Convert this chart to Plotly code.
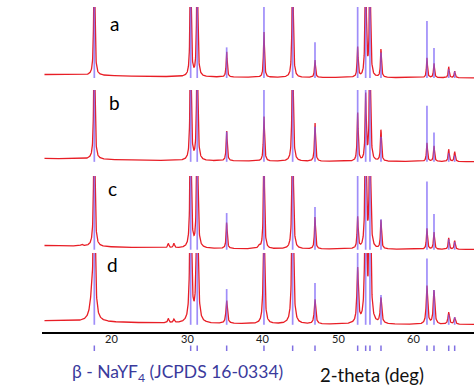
import numpy as np
import plotly.graph_objects as go

# ---------------- data ----------------
# reference pattern beta-NaYF4 (JCPDS 16-0334): 2-theta positions and relative stick heights
ref_pos = [17.66, 30.42, 31.29, 35.19, 40.13, 43.93, 46.89, 52.54, 53.60, 54.17, 55.63, 61.72, 62.65, 64.60, 65.39]
ref_int = [1.5, 1.5, 1.5, 0.42, 1.5, 1.5, 0.49, 1.0, 1.5, 1.5, 0.35, 0.78, 0.41, 0.12, 0.09]

panel_labels = ["a", "b", "c", "d"]

# measured peak heights of each sample at the reference positions
peaks_a = [2.0, 2.0, 2.0, 0.35, 0.63, 2.0, 0.24, 0.41, 2.0, 2.0, 0.39, 0.27, 0.20, 0.15, 0.09]
peaks_b = [2.0, 2.0, 2.0, 0.42, 0.63, 2.0, 0.54, 0.67, 0.91, 2.0, 0.44, 0.26, 0.22, 0.17, 0.14]
peaks_c = [2.0, 2.0, 2.0, 0.30, 1.20, 2.0, 0.37, 0.36, 2.0, 2.0, 0.33, 0.24, 0.20, 0.13, 0.10]
peaks_d = [2.0, 2.0, 2.0, 0.27, 1.20, 2.0, 0.29, 0.64, 2.0, 2.0, 0.30, 0.45, 0.40, 0.14, 0.08]
peak_widths = [0.16, 0.17, 0.17, 0.23]          # FWHM (deg) per sample
background = [0.027, 0.030, 0.026, 0.026]        # flat background level per sample

# minor / impurity peaks per sample: (position, height, width)
extra_a = []
extra_b = []
extra_c = [(16.0, 0.02, 0.3), (27.46, 0.05, 0.2), (28.20, 0.05, 0.2), (39.5, 0.03, 0.3)]
extra_d = [(17.35, 0.25, 0.6), (27.46, 0.05, 0.2), (28.20, 0.04, 0.2)]

# low-angle amorphous background hump (position, height, width)
hump = (8.0, 0.05, 30.0)

x_ticks = [20, 30, 40, 50, 60]
scan_start, scan_end, scan_step = 11.06, 68.0, 0.02

# ---------------- layout helpers ----------------
W, H = 474, 390
ML, MT, MB = 42, 7, 57
plot_h = H - MT - MB
plot_w = W - ML


def py(p):
    return (H - MB - p) / plot_h


def px(p):
    return (p - ML) / plot_w


x_range = [10.73, 67.95]
panel_px = [(7, 80), (90, 164), (176, 252), (253, 327)]   # (top, bottom) in pixels
panel_top = [1.0, 1.03, 0.87, 0.87]

two_theta = np.arange(scan_start, scan_end, scan_step)


def lorentz(x, c, h, w):
    return h / (1.0 + (2.0 * (x - c) / w) ** 2)


all_peaks = [peaks_a, peaks_b, peaks_c, peaks_d]
all_extra = [extra_a, extra_b, extra_c, extra_d]

RED = "rgb(232,30,38)"
STICK = "rgba(118,92,246,0.70)"

fig = go.Figure()
for i in range(4):
    yname = "y" if i == 0 else f"y{i + 1}"
    bg = background[i]
    prof = np.full_like(two_theta, bg) + lorentz(two_theta, *hump)
    for c, h in zip(ref_pos, all_peaks[i]):
        prof += lorentz(two_theta, c, h, peak_widths[i])
    for c, h, w in all_extra[i]:
        prof += lorentz(two_theta, c, h, w)
    fig.add_trace(go.Scatter(x=two_theta, y=prof, mode="lines",
                             line=dict(color=RED, width=1.3),
                             xaxis="x", yaxis=yname, showlegend=False, hoverinfo="skip"))
    sx, sy = [], []
    for c, h in zip(ref_pos, ref_int):
        sx += [c, c, None]
        sy += [bg, bg + h, None]
    fig.add_trace(go.Scatter(x=sx, y=sy, mode="lines",
                             line=dict(color=STICK, width=1.7),
                             xaxis="x", yaxis=yname, showlegend=False, hoverinfo="skip"))

layout = dict(
    width=W, height=H,
    margin=dict(l=ML, r=0, t=MT, b=MB),
    paper_bgcolor="white", plot_bgcolor="white",
    xaxis=dict(range=x_range, domain=[0, 1], anchor="free", position=0,
               showline=True, linecolor="black", linewidth=2,
               ticks="", showticklabels=False,
               showgrid=False, zeroline=False),
)
for i in range(4):
    key = "yaxis" if i == 0 else f"yaxis{i + 1}"
    top, bot = panel_px[i]
    layout[key] = dict(domain=[py(bot), py(top)], range=[0, panel_top[i]],
                       visible=False, anchor="x", fixedrange=True)
fig.update_layout(**layout)

# tick labels just under the axis line
for t in x_ticks:
    fig.add_annotation(text=str(t), xref="x", yref="paper", x=t, y=py(338.5),
                       xanchor="center", yanchor="middle", showarrow=False,
                       font=dict(family="Lato", size=11, color="#222"))

# reference tick row below the axis
for c in ref_pos:
    fig.add_shape(type="line", xref="x", yref="paper", x0=c, x1=c,
                  y0=py(345.5), y1=py(351), line=dict(color="rgb(128,112,226)", width=1.5))

label_px = [(114, 23), (114, 102), (112, 188), (112, 264)]
for lab, (lx, ly) in zip(panel_labels, label_px):
    fig.add_annotation(text=lab, xref="paper", yref="paper", x=px(lx), y=py(ly),
                       xanchor="center", yanchor="middle", showarrow=False,
                       font=dict(family="Lato", size=19, color="black"))

fig.add_annotation(text="β - NaYF<sub>4</sub> (JCPDS 16-0334)", xref="paper", yref="paper",
                   x=px(177), y=py(373), xanchor="center", yanchor="middle", showarrow=False,
                   font=dict(family="Lato", size=17.5, color="rgb(58,58,156)"))
fig.add_annotation(text="2-theta (deg)", xref="paper", yref="paper",
                   x=px(372), y=py(375), xanchor="center", yanchor="middle", showarrow=False,
                   font=dict(family="Lato", size=18.5, color="#111"))

fig.write_html("out.html", config={"displayModeBar": False},
               post_script="document.body.style.margin='0';document.body.style.overflow='hidden';")
